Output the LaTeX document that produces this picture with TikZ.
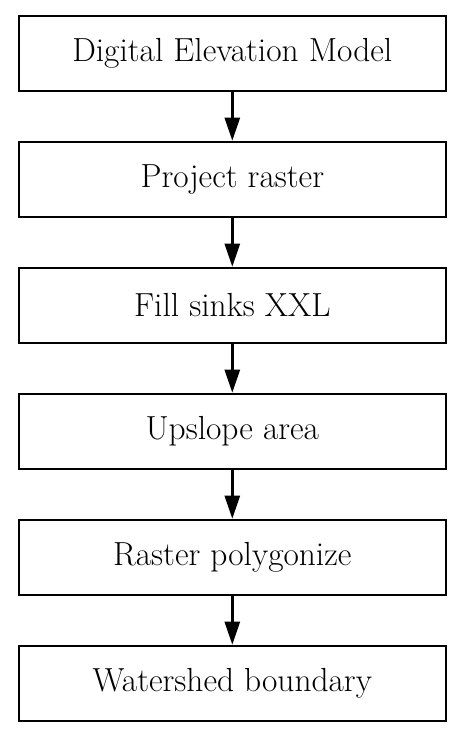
\documentclass[tikz,border=0pt]{standalone}
\usetikzlibrary{arrows.meta}
\tikzset{
	stepbox/.style={draw,line width=1.1pt,minimum width=8.55cm,minimum height=1.5cm,font=\fontsize{19}{22}\selectfont},
	flow/.style={line width=1.5pt,-{Triangle[length=4.6mm,width=3mm]}}
}
\begin{document}
\begin{tikzpicture}
	\useasboundingbox (0,0) rectangle (9.42,-14.72);
	\node[stepbox] at (4.646,-1.064) (dem) {Digital Elevation Model};
	\node[stepbox] at (4.646,-3.584) (proj) {Project raster};
	\node[stepbox] at (4.646,-6.104) (fill) {Fill sinks XXL};
	\node[stepbox] at (4.646,-8.624) (up) {Upslope area};
	\node[stepbox] at (4.646,-11.144) (poly) {Raster polygonize};
	\node[stepbox] at (4.646,-13.664) (shed) {Watershed boundary};
	\draw[flow] (dem) -- (proj);
	\draw[flow] (proj) -- (fill);
	\draw[flow] (fill) -- (up);
	\draw[flow] (up) -- (poly);
	\draw[flow] (poly) -- (shed);
\end{tikzpicture}
\end{document}
